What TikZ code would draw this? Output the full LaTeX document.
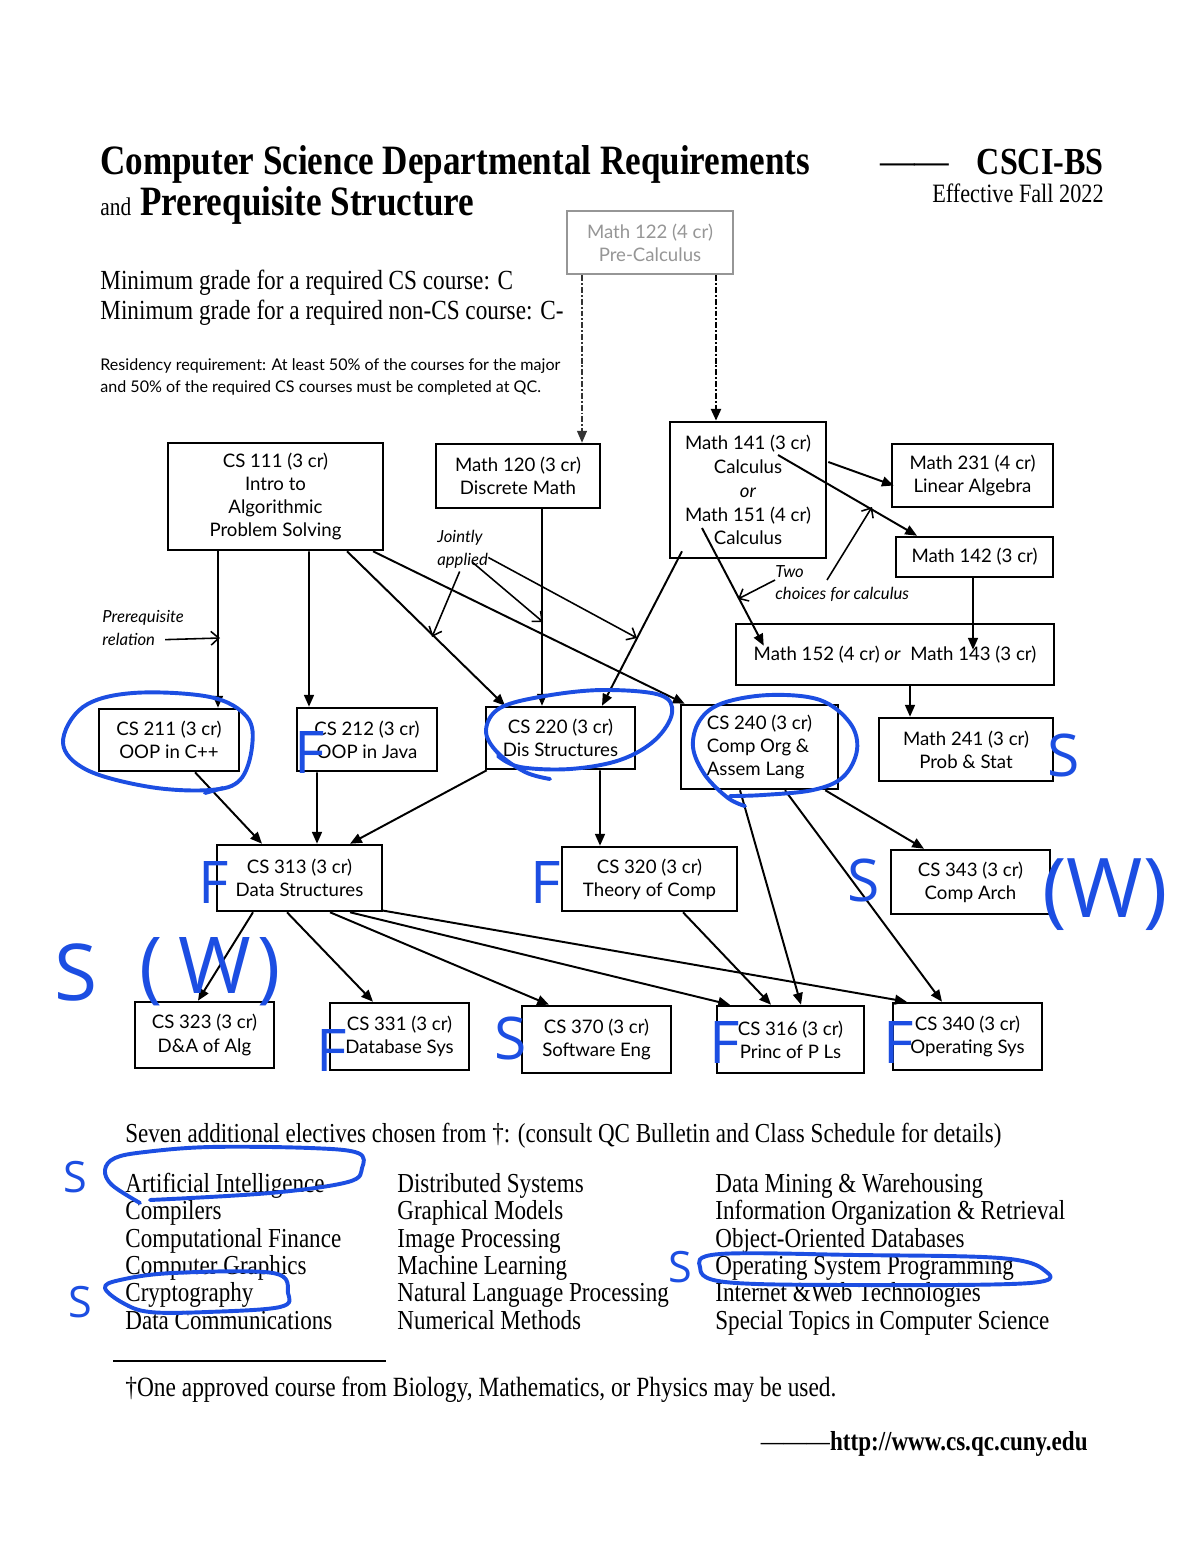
\documentclass[tikz,border=0pt]{standalone}
\usepackage{fontspec}
\setmainfont{Liberation Serif}[FakeStretch=0.84]
\newfontfamily\boxfont{Lato}
\newfontfamily\inkfont{Open Sans}
\usetikzlibrary{arrows.meta,calc}
\definecolor{inkblue}{RGB}{28,78,226}
\definecolor{pregray}{RGB}{150,150,150}

\begin{document}
\begin{tikzpicture}[x=0.51pt, y=-0.51pt,
    course/.style 2 args = {draw, line width=1.3pt, align=center, inner sep=0pt,
      minimum width=#1*0.51pt, minimum height=#2*0.51pt,
      font=\boxfont\fontsize{9.5}{11.8}\selectfont},
    req/.style     = {line width=1pt, -{Triangle[length=6pt,width=5pt]}},
    optreq/.style  = {req, dash pattern=on 3pt off 1pt on 1pt off 1pt},
    pointer/.style = {line width=0.8pt, -{Straight Barb[length=4pt,width=7pt]}},
    note/.style    = {align=left, inner sep=0pt, font=\boxfont\itshape\fontsize{8.5}{11.5}\selectfont},
    scribble/.style = {text=inkblue, inner sep=0pt, font=\inkfont\fontsize{30}{30}\selectfont},
    loop/.style    = {draw=inkblue, line width=2pt, line cap=round, line join=round}]

  \fill[white] (0,0) rectangle (1200,1553);
  \useasboundingbox (0,0) rectangle (1200,1553);

  % heading
  \node[anchor=base west, inner sep=0pt, font=\bfseries\fontsize{21.3}{24}\selectfont] (title) at (100,175)
    {Computer Science Departmental Requirements};
  \node[anchor=base west, inner sep=0pt, font=\bfseries\fontsize{21.3}{24}\selectfont] (title2) at (100,215)
    {{\mdseries\fontsize{13}{15}\selectfont and} Prerequisite Structure};
  \node[anchor=base east, inner sep=0pt, font=\bfseries\fontsize{19.5}{24}\selectfont] (major) at (1104,175)
    {{\mdseries\fontsize{21}{24}\selectfont ——}\hspace{14pt}CSCI-BS};
  \node[anchor=base east, inner sep=0pt, font=\fontsize{13.5}{15}\selectfont] (fall) at (1104,203)
    {Effective Fall 2022};

  \node[anchor=base west, inner sep=0pt, align=left, font=\fontsize{14.1}{15.3}\selectfont] (grades) at (100,319)
    {Minimum grade for a required CS course: C\\Minimum grade for a required non-CS course: C-};
  \node[anchor=base west, inner sep=0pt, align=left, font=\boxfont\fontsize{8.2}{11.2}\selectfont] (residency) at (100,392)
    {Residency requirement: At least 50\% of the courses for the major\\and 50\% of the required CS courses must be completed at QC.};

  % courses
  \node[course={166}{63}, draw=pregray, text=pregray] (m122) at (650,242.5) {Math 122 (4 cr)\\Pre-Calculus};
  \node[course={215}{107}] (cs111) at (275.5,496.5) {CS 111 (3 cr)\\Intro to\\Algorithmic\\Problem Solving};
  \node[course={164}{64}]  (m120)  at (518,476)     {Math 120 (3 cr)\\Discrete Math};
  \node[course={156}{136}, font=\boxfont\fontsize{9.5}{12.2}\selectfont] (m141) at (748,490)
    {Math 141 (3 cr)\\Calculus\\\textit{or}\\Math 151 (4 cr)\\Calculus};
  \node[course={161}{63}]  (m231)  at (972.5,475.5) {Math 231 (4 cr)\\Linear Algebra};
  \node[course={157}{40}]  (m142)  at (974.5,557)   {Math 142 (3 cr)};
  \node[course={318}{61}]  (m152)  at (895,654.5)   {Math 152 (4 cr) \textit{or}\ \ Math 143 (3 cr)};

  \node[course={140}{62}]  (cs211) at (169,740)     {CS 211 (3 cr)\\OOP in C++};
  \node[course={140}{63}]  (cs212) at (367,739.5)   {CS 212 (3 cr)\\OOP in Java};
  \node[course={149}{62}]  (cs220) at (560.5,738)   {CS 220 (3 cr)\\Dis Structures};
  \node[course={157}{84}, align=left] (cs240) at (759.5,747) {CS 240 (3 cr)\\Comp Org \&\\Assem Lang};
  \node[course={174}{63}]  (m241)  at (966,749.5)   {Math 241 (3 cr)\\Prob \& Stat};

  \node[course={165}{66}]  (cs313) at (299.5,878)   {CS 313 (3 cr)\\Data Structures};
  \node[course={175}{64}]  (cs320) at (649.5,879)   {CS 320 (3 cr)\\Theory of Comp};
  \node[course={159}{64}]  (cs343) at (970.5,882)   {CS 343 (3 cr)\\Comp Arch};

  \node[course={139}{66}]  (cs323) at (204.5,1035)  {CS 323 (3 cr)\\D\&A of Alg};
  \node[course={139}{67}]  (cs331) at (399.5,1036.5) {CS 331 (3 cr)\\Database Sys};
  \node[course={149}{67}]  (cs370) at (596.5,1039.5) {CS 370 (3 cr)\\Software Eng};
  \node[course={147}{67}]  (cs316) at (790.5,1039.5) {CS 316 (3 cr)\\Princ of P Ls};
  \node[course={149}{67}]  (cs340) at (967.5,1036.5) {CS 340 (3 cr)\\Operating Sys};

  % prerequisites
  \draw[optreq, line width=0.7pt, draw=black!80] ($(m122.south)+(-68,0)$) -- ($(m120.north)+(64,0)$);
  \draw[optreq, line width=1.3pt] ($(m122.south)+(66,0)$) -- ($(m141.north)+(-32,0)$);

  \draw[req] ($(cs111.south)+(-57.5,0)$) -- ($(cs211.north)+(49,0)$);
  \draw[req] ($(cs111.south)+(33.5,0)$)  -- ($(cs212.north)+(-58,0)$);
  \draw[req] ($(cs111.south)+(71.5,0)$)  -- ($(cs220.north)+(-55.5,0)$);
  \draw[req] ($(cs111.south)+(97.5,0)$)  -- ($(cs240.north west)+(5,0)$);
  \draw[req, line width=0.6pt] ($(m120.south)+(24,0)$) -- ($(cs220.north)+(-18.5,0)$);
  \draw[req] ($(m141.south)+(-66,-8)$)   -- ($(cs220.north)+(41.5,0)$);

  \draw[req] ($(m141.east)+(1,-28)$)     -- ($(m231.west)+(3,10)$);
  \draw[req] ($(m141.center)+(30,-35)$)  -- ($(m142.north)+(-57.5,0)$);
  \draw[req] ($(m141.center)+(-46,38)$)  -- ($(m152.north west)+(29,23)$);
  \draw[req] ($(m142.south)+(-1.5,0)$)   -- ($(m152.north)+(78,27)$);
  \draw[req] ($(m152.south)+(15,0)$)     -- ($(m241.north)+(-56,0)$);

  \draw[req] ($(cs211.south)+(26,0)$)    -- ($(cs313.north)+(-37.5,0)$);
  \draw[req] ($(cs212.south)+(-50,0)$)   -- ($(cs313.north)+(17.5,0)$);
  \draw[req] ($(cs220.south west)+(2,0)$) -- ($(cs313.north)+(50.5,0)$);
  \draw[req] ($(cs220.south)+(39.5,0)$)  -- ($(cs320.north)+(-49.5,0)$);
  \draw[req] ($(cs240.south east)+(-14,0)$) -- ($(cs343.north)+(-46.5,0)$);
  \draw[req] ($(cs240.south)+(-19.5,0)$) -- ($(cs316.north)+(10.5,0)$);
  \draw[req] ($(cs240.south)+(25.5,0)$)  -- ($(cs340.north)+(-25.5,0)$);

  \draw[req] ($(cs313.south)+(-46.5,0)$) -- ($(cs323.north)+(-6.5,0)$);
  \draw[req] ($(cs313.south)+(-12.5,0)$) -- ($(cs331.north)+(-26.5,0)$);
  \draw[req] ($(cs313.south)+(30.5,0)$)  -- ($(cs370.north)+(-47.5,0)$);
  \draw[req] ($(cs313.south)+(50.5,0)$)  -- ($(cs316.north)+(-60.5,0)$);
  \draw[req] ($(cs313.south east)+(-2,-2)$) -- ($(cs340.north west)+(15,0)$);
  \draw[req] ($(cs320.south)+(33.5,0)$)  -- ($(cs316.north)+(-19.5,0)$);

  % explanations
  \node[note, anchor=north west] (prereq) at (102,610) {Prerequisite\\relation};
  \coordinate (prereqtip) at (220,638);
  \draw[pointer] ($(prereq.south east)+(-19,-6)$) -- (prereqtip);

  \node[note, anchor=north west] (jointly) at (437,530) {Jointly\\applied};
  \coordinate (jointA) at (432,637);
  \coordinate (jointB) at (543,622);
  \coordinate (jointC) at (637,638);
  \draw[pointer] ($(jointly.south)+(-3,3)$)  -- (jointA);
  \draw[pointer] ($(jointly.south)+(10,-6)$) -- (jointB);
  \draw[pointer] ($(jointly.south east)+(0,-11)$) -- (jointC);

  \node[note, anchor=north west] (calcnote) at (775,565) {Two\\choices for calculus};
  \coordinate (calcA) at (738,599);
  \coordinate (calcB) at (872,507);
  \draw[pointer] ($(calcnote.north west)+(0,15)$) -- (calcA);
  \draw[pointer] ($(calcnote.north west)+(52,15)$) -- (calcB);

  % electives
  \node[anchor=base west, inner sep=0pt, font=\fontsize{14}{15}\selectfont] (electives) at (125,1142)
    {Seven additional electives chosen from \textdagger: (consult QC Bulletin and Class Schedule for details)};
  \node[anchor=base west, inner sep=0pt, align=left, font=\fontsize{14}{13.9}\selectfont] (colA) at (125,1329)
    {Artificial Intelligence\\Compilers\\Computational Finance\\Computer Graphics\\Cryptography\\Data Communications};
  \node[anchor=base west, inner sep=0pt, align=left, font=\fontsize{14}{13.9}\selectfont] (colB) at (397,1329)
    {Distributed Systems\\Graphical Models\\Image Processing\\Machine Learning\\Natural Language Processing\\Numerical Methods};
  \node[anchor=base west, inner sep=0pt, align=left, font=\fontsize{14}{13.9}\selectfont] (colC) at (715,1329)
    {Data Mining \& Warehousing\\Information Organization \& Retrieval\\Object-Oriented Databases\\Operating System Programming\\Internet \&Web Technologies\\Special Topics in Computer Science};

  \draw[line width=1.5pt] (113,1361) -- (386,1361);
  \node[anchor=base west, inner sep=0pt, font=\fontsize{14.2}{15}\selectfont] (footnote) at (125,1396)
    {\textdagger One approved course from Biology, Mathematics, or Physics may be used.};
  \node[anchor=base east, inner sep=0pt, font=\fontsize{14}{15}\selectfont] (url) at (1088,1450)
    {———\textbf{http://www.cs.qc.cuny.edu}};

  % handwritten marks
  \draw[loop] plot[smooth cycle, tension=0.6] coordinates {(63,743) (83,707) (133,693) (210,697) (247,717) (252,747) (240,780) (210,790) (150,787) (87,770)};
  \draw[loop] (205,793) -- (223,788);
  \draw[loop] plot[smooth, tension=0.6] coordinates {(550,779) (525,772) (497,752) (486,730) (500,708) (545,696) (603,690) (660,695) (672,713) (655,740) (620,760) (570,769) (520,767) (498,756)};
  \draw[loop] plot[smooth, tension=0.6] coordinates {(745,806) (728,798) (705,775) (693,747) (700,720) (723,703) (770,695) (820,700) (850,723) (857,750) (843,777) (813,790) (763,795) (730,796)};
  \draw[loop] plot[smooth, tension=0.6] coordinates {(140,1203) (112,1185) (105,1170) (115,1158) (145,1152) (210,1147) (310,1148) (358,1153) (362,1168) (348,1182) (270,1193) (150,1200)};
  \draw[loop] plot[smooth cycle, tension=0.6] coordinates {(105,1288) (120,1280) (173,1273) (273,1273) (288,1293) (280,1307) (207,1312) (150,1312) (123,1303)};
  \draw[loop] plot[smooth cycle, tension=0.6] coordinates {(700,1267) (720,1254) (857,1255) (1000,1258) (1044,1270) (1030,1283) (857,1285) (725,1282)};

  \node[scribble] (f212) at (310,752) {F};
  \node[scribble] (s241) at (1064,755) {S};
  \node[scribble] (f313) at (214,882) {F};
  \node[scribble] (f320) at (546,882) {F};
  \node[scribble] (s343) at (864,880) {S};
  \node[scribble, font=\inkfont\fontsize{42}{42}\selectfont] (w343) at (1105,895) {(W)};
  \node[scribble, font=\inkfont\fontsize{40}{40}\selectfont] (s323) at (76,972) {S};
  \node[scribble, font=\inkfont\fontsize{40}{40}\selectfont] (w323) at (210,972) {(\hspace{8pt}W\hspace{3pt})};
  \node[scribble] (f331) at (332,1050) {F};
  \node[scribble] (s370) at (511,1038) {S};
  \node[scribble] (f316) at (725,1042) {F};
  \node[scribble] (f340) at (899,1042) {F};
  \node[scribble, font=\inkfont\fontsize{22}{22}\selectfont] (sai) at (75,1177) {S};
  \node[scribble, font=\inkfont\fontsize{22}{22}\selectfont] (scr) at (80,1302) {S};
  \node[scribble, font=\inkfont\fontsize{22}{22}\selectfont] (sos) at (680,1267) {S};
\end{tikzpicture}
\end{document}
